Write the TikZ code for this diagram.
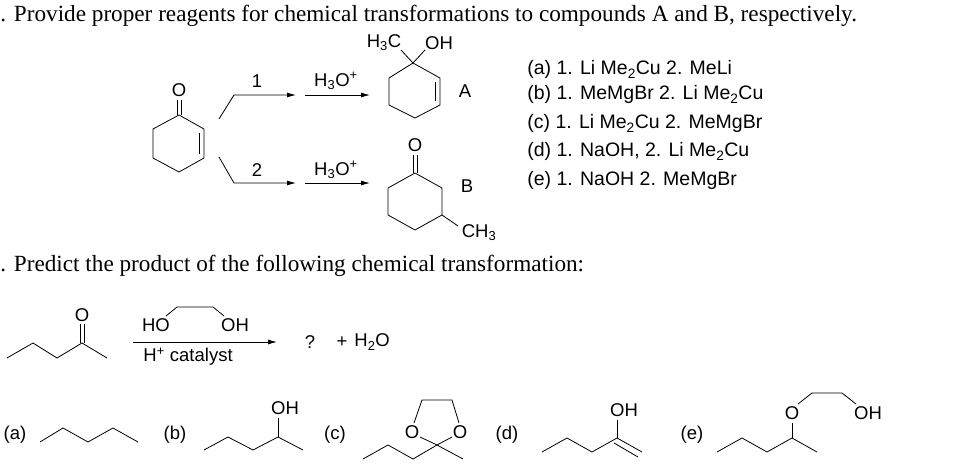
\documentclass[tikz,border=0pt]{standalone}
\usepackage{fontspec}
\setmainfont{Liberation Serif}
\setsansfont{Liberation Sans}
\usetikzlibrary{arrows.meta}
\begin{document}
\begin{tikzpicture}[x=1pt,y=-1pt,line width=0.8pt,
  ch/.style={font=\sffamily\fontsize{18.5}{20}\selectfont,inner sep=1pt},
  opt/.style={font=\sffamily\fontsize{19.5}{21}\selectfont,anchor=base west,inner sep=0pt},
  ttl/.style={font=\fontsize{23.2}{26}\selectfont,anchor=base west,inner sep=0pt},
  arr/.style={-{Latex[length=9pt,width=5pt]}},
  bond/.style={line join=miter}]
\useasboundingbox (0,0) rectangle (954,473);
% titles
\node[ttl] (t1) at (0,22) {. Provide proper reagents for chemical transformations to compounds A and B, respectively.};
\node[ttl] (t2) at (0,272) {. Predict the product of the following chemical transformation:};
% cyclohexenone
\coordinate (r1) at (179,115); \coordinate (r2) at (204,129); \coordinate (r3) at (204,158);
\coordinate (r4) at (179,172); \coordinate (r5) at (153,158); \coordinate (r6) at (153,129);
\draw[bond] (r1)--(r2)--(r3)--(r4)--(r5)--(r6)--cycle;
\draw (199,133)--(199,154);
\node[ch] (o1) at (179,90) {O};
\draw (177,115)--(177,100) (181,115)--(181,100);
% branches
\coordinate (b1) at (219,119); \coordinate (b2) at (234,95); \coordinate (b3) at (296,95);
\draw[arr] (b1)--(b2)--(b3);
\node[ch] (l1) at (257,81) {1};
\coordinate (c1) at (305,95); \coordinate (c2) at (370,95);
\draw[arr] (c1)--(c2);
\node[ch] (h1) at (336,81) {H\textsubscript{3}O\textsuperscript{+}};
\coordinate (b4) at (219,157); \coordinate (b5) at (234,183); \coordinate (b6) at (296,183);
\draw[arr] (b4)--(b5)--(b6);
\node[ch] (l2) at (257,170) {2};
\coordinate (c3) at (305,183); \coordinate (c4) at (370,183);
\draw[arr] (c3)--(c4);
\node[ch] (h2) at (336,170) {H\textsubscript{3}O\textsuperscript{+}};
% product A
\coordinate (a1) at (413,63); \coordinate (a2) at (440,78); \coordinate (a3) at (440,105);
\coordinate (a4) at (415,118); \coordinate (a5) at (389,105); \coordinate (a6) at (389,78);
\draw[bond] (a1)--(a2)--(a3)--(a4)--(a5)--(a6)--cycle;
\draw (435,82)--(435,101);
\node[ch] (hc) at (384,43) {H\textsubscript{3}C};
\node[ch] (oha) at (439,43) {OH};
\draw (a1)--(401,50) (a1)--(425,50);
\node[ch] (la) at (465,91) {A};
% product B
\coordinate (p1) at (415,173); \coordinate (p2) at (442,188); \coordinate (p3) at (442,215);
\coordinate (p4) at (415,230); \coordinate (p5) at (388,215); \coordinate (p6) at (388,188);
\draw[bond] (p1)--(p2)--(p3)--(p4)--(p5)--(p6)--cycle;
\node[ch] (ob) at (415,145) {O};
\draw (413,173)--(413,155) (417,173)--(417,155);
\draw (p3)--(458,226);
\node[ch] (ch3) at (479,233) {CH\textsubscript{3}};
\node[ch] (lb) at (467,186) {B};
% options
\node[opt] (oa) at (527,75) {(a) 1. Li Me\textsubscript{2}Cu 2. MeLi};
\node[opt] (ob2) at (527,100) {(b) 1. MeMgBr 2. Li Me\textsubscript{2}Cu};
\node[opt] (oc) at (527,129) {(c) 1. Li Me\textsubscript{2}Cu 2. MeMgBr};
\node[opt] (od) at (527,157) {(d) 1. NaOH, 2. Li Me\textsubscript{2}Cu};
\node[opt] (oe) at (527,186) {(e) 1. NaOH 2. MeMgBr};
% ketone
\draw[bond] (7,358)--(33,343)--(57,358)--(82,343)--(107,358);
\draw (80,343)--(80,324) (84,343)--(84,324);
\node[ch] (ok) at (82,315) {O};
\draw[arr] (133,342)--(277,342);
\node[ch] (ho) at (156,325) {HO};
\node[ch] (oh) at (235,325) {OH};
\draw[bond] (166,316)--(177,307)--(213,307)--(224,316);
\node[ch,anchor=west] (hcat) at (142,357) {H\textsuperscript{+} catalyst};
\node[ch] (q) at (310,342) {?};
\node[ch] (pl) at (342,342) {+};
\node[ch,anchor=west] (h2o) at (353,342) {H\textsubscript{2}O};
% answers
\node[ch] (la2) at (15,435) {(a)};
\draw[bond] (40,442)--(63,428)--(88,442)--(113,428)--(138,442);
\node[ch] (lb2) at (175,435) {(b)};
\draw[bond] (204,450)--(228,437)--(253,450)--(278,437)--(303,450);
\draw (278,437)--(278,418);
\node[ch] (ohb) at (285,408) {OH};
\node[ch] (lc2) at (335,435) {(c)};
\draw[bond] (363,459)--(388,445)--(413,459)--(437,445)--(463,459);
\node[ch] (oc1) at (412,432) {O};
\node[ch] (oc2) at (460,432) {O};
\draw (437,445)--(420,437) (437,445)--(452,437);
\draw[bond] (414,423)--(422,400)--(452,400)--(459,423);
\node[ch] (ld2) at (507,435) {(d)};
\draw[bond] (542,452)--(567,438)--(592,452)--(617,438)--(642,452);
\draw (614,443)--(638,457);
\draw (617,438)--(617,420);
\node[ch] (ohd) at (624,410) {OH};
\node[ch] (le2) at (692,435) {(e)};
\draw[bond] (717,452)--(742,438)--(767,452)--(792,438)--(817,452);
\draw (792,438)--(792,423);
\node[ch] (oe1) at (792,413) {O};
\draw[bond] (798,404)--(812,393)--(842,393)--(856,404);
\node[ch] (ohe) at (868,413) {OH};
\end{tikzpicture}
\end{document}
